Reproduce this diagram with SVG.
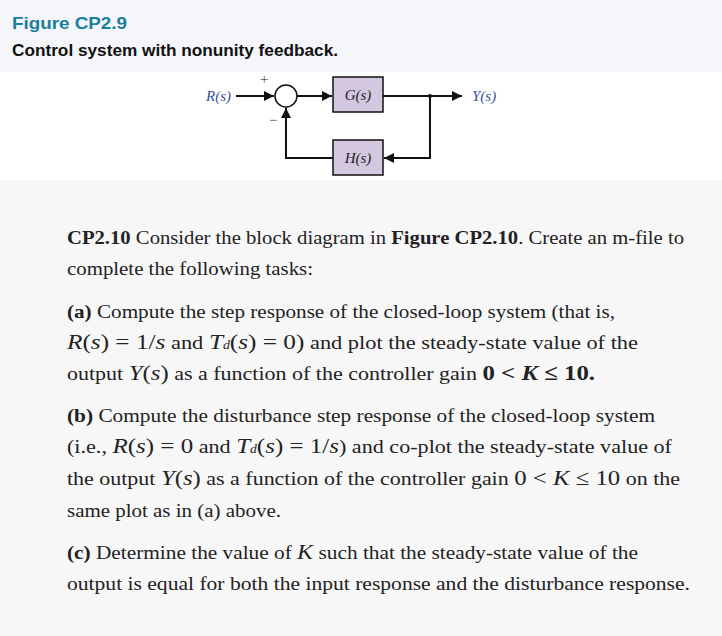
<svg xmlns="http://www.w3.org/2000/svg" width="722" height="636" viewBox="0 0 722 636">
<style>
.h{font-family:"Liberation Sans",Arial,sans-serif;font-weight:bold}
.t{font-family:"Liberation Serif","Times New Roman",serif;font-size:19.5px;fill:#222}
.m{font-style:italic}
.b{font-weight:bold}
.lbl{font-family:"Liberation Serif","Times New Roman",serif;font-style:italic;font-size:15px;fill:#3a4f9a}
.blk{font-family:"Liberation Serif","Times New Roman",serif;font-style:italic;font-size:15px;fill:#222}
.ln{stroke:#111;stroke-width:2;fill:none}
.box{fill:#d4c8e0;stroke:#111;stroke-width:1.5}
</style>
<defs>
<marker id="a" viewBox="0 0 10 10" refX="10" refY="5" markerWidth="5" markerHeight="5" orient="auto"><path d="M0,0L10,5L0,10z" fill="#111"/></marker>
</defs>
<rect width="722" height="636" fill="#fff"/>
<rect width="722" height="72" fill="#f4f6f9"/>
<rect y="180" width="722" height="456" fill="#f7f7f8"/>
<text class="h" x="12" y="29" font-size="17" fill="#1a7ea0" textLength="115" lengthAdjust="spacingAndGlyphs">Figure CP2.9</text>
<text class="h" x="12" y="56" font-size="16" fill="#111" textLength="326" lengthAdjust="spacingAndGlyphs">Control system with nonunity feedback.</text>
<g id="connectors">
<path class="ln" d="M236,96H274" marker-end="url(#a)"/>
<path class="ln" d="M297,96H332" marker-end="url(#a)"/>
<path class="ln" d="M383,96H462" marker-end="url(#a)"/>
<path class="ln" d="M430,96V158H384" marker-end="url(#a)"/>
<path class="ln" d="M333,158H286V108" marker-end="url(#a)"/>
<circle cx="430" cy="96" r="2" fill="#111"/>
</g>
<g id="R"><text class="lbl" x="206" y="101">R(s)</text></g>
<g id="Y"><text class="lbl" x="472" y="101">Y(s)</text></g>
<g id="sum"><circle cx="286" cy="96" r="11" fill="#fff" stroke="#111" stroke-width="1.5"/>
<text x="260" y="84" font-family="Liberation Serif,serif" font-size="15" fill="#555">+</text>
<text x="269" y="125" font-family="Liberation Serif,serif" font-size="15" fill="#555">−</text></g>
<g id="G"><rect class="box" x="333" y="77" width="50" height="35"/><text class="blk" x="358" y="100" text-anchor="middle">G(s)</text></g>
<g id="H"><rect class="box" x="333" y="140" width="50" height="35"/><text class="blk" x="358" y="163" text-anchor="middle">H(s)</text></g>
<text class="t" x="67" y="244" textLength="617" lengthAdjust="spacingAndGlyphs"><tspan class="b">CP2.10</tspan> Consider the block diagram in <tspan class="b">Figure CP2.10</tspan>. Create an m-file to</text>
<text class="t" x="67" y="275" textLength="246" lengthAdjust="spacingAndGlyphs">complete the following tasks:</text>
<text class="t" x="67" y="318" textLength="548" lengthAdjust="spacingAndGlyphs"><tspan class="b">(a)</tspan> Compute the step response of the closed-loop system (that is,</text>
<text class="t" x="67" y="349" textLength="571" lengthAdjust="spacingAndGlyphs"><tspan class="m" font-size="22">R</tspan><tspan font-size="22">(</tspan><tspan class="m" font-size="22">s</tspan><tspan font-size="22">) = 1/</tspan><tspan class="m" font-size="22">s</tspan> and <tspan class="m" font-size="22">T</tspan><tspan class="m" font-size="12">d</tspan><tspan font-size="22">(</tspan><tspan class="m" font-size="22">s</tspan><tspan font-size="22">) = 0)</tspan> and plot the steady-state value of the</text>
<text class="t" x="67" y="380" textLength="528" lengthAdjust="spacingAndGlyphs">output <tspan class="m" font-size="22">Y</tspan><tspan font-size="22">(</tspan><tspan class="m" font-size="22">s</tspan><tspan font-size="22">)</tspan> as a function of the controller gain <tspan font-size="22" class="b">0 &lt; </tspan><tspan class="m b" font-size="22">K</tspan><tspan font-size="22" class="b"> ≤ 10.</tspan></text>
<text class="t" x="67" y="422" textLength="588" lengthAdjust="spacingAndGlyphs"><tspan class="b">(b)</tspan> Compute the disturbance step response of the closed-loop system</text>
<text class="t" x="67" y="453" textLength="605" lengthAdjust="spacingAndGlyphs">(i.e., <tspan class="m" font-size="22">R</tspan><tspan font-size="22">(</tspan><tspan class="m" font-size="22">s</tspan><tspan font-size="22">) = 0</tspan> and <tspan class="m" font-size="22">T</tspan><tspan class="m" font-size="12">d</tspan><tspan font-size="22">(</tspan><tspan class="m" font-size="22">s</tspan><tspan font-size="22">) = 1/</tspan><tspan class="m" font-size="22">s</tspan>) and co-plot the steady-state value of</text>
<text class="t" x="67" y="485" textLength="613" lengthAdjust="spacingAndGlyphs">the output <tspan class="m" font-size="22">Y</tspan><tspan font-size="22">(</tspan><tspan class="m" font-size="22">s</tspan><tspan font-size="22">)</tspan> as a function of the controller gain <tspan font-size="22">0 &lt; </tspan><tspan class="m" font-size="22">K</tspan><tspan font-size="22"> ≤ 10</tspan> on the</text>
<text class="t" x="67" y="517" textLength="214" lengthAdjust="spacingAndGlyphs">same plot as in (a) above.</text>
<text class="t" x="67" y="559" textLength="571" lengthAdjust="spacingAndGlyphs"><tspan class="b">(c)</tspan> Determine the value of <tspan class="m" font-size="22">K</tspan> such that the steady-state value of the</text>
<text class="t" x="67" y="590" textLength="623" lengthAdjust="spacingAndGlyphs">output is equal for both the input response and the disturbance response.</text>
</svg>
